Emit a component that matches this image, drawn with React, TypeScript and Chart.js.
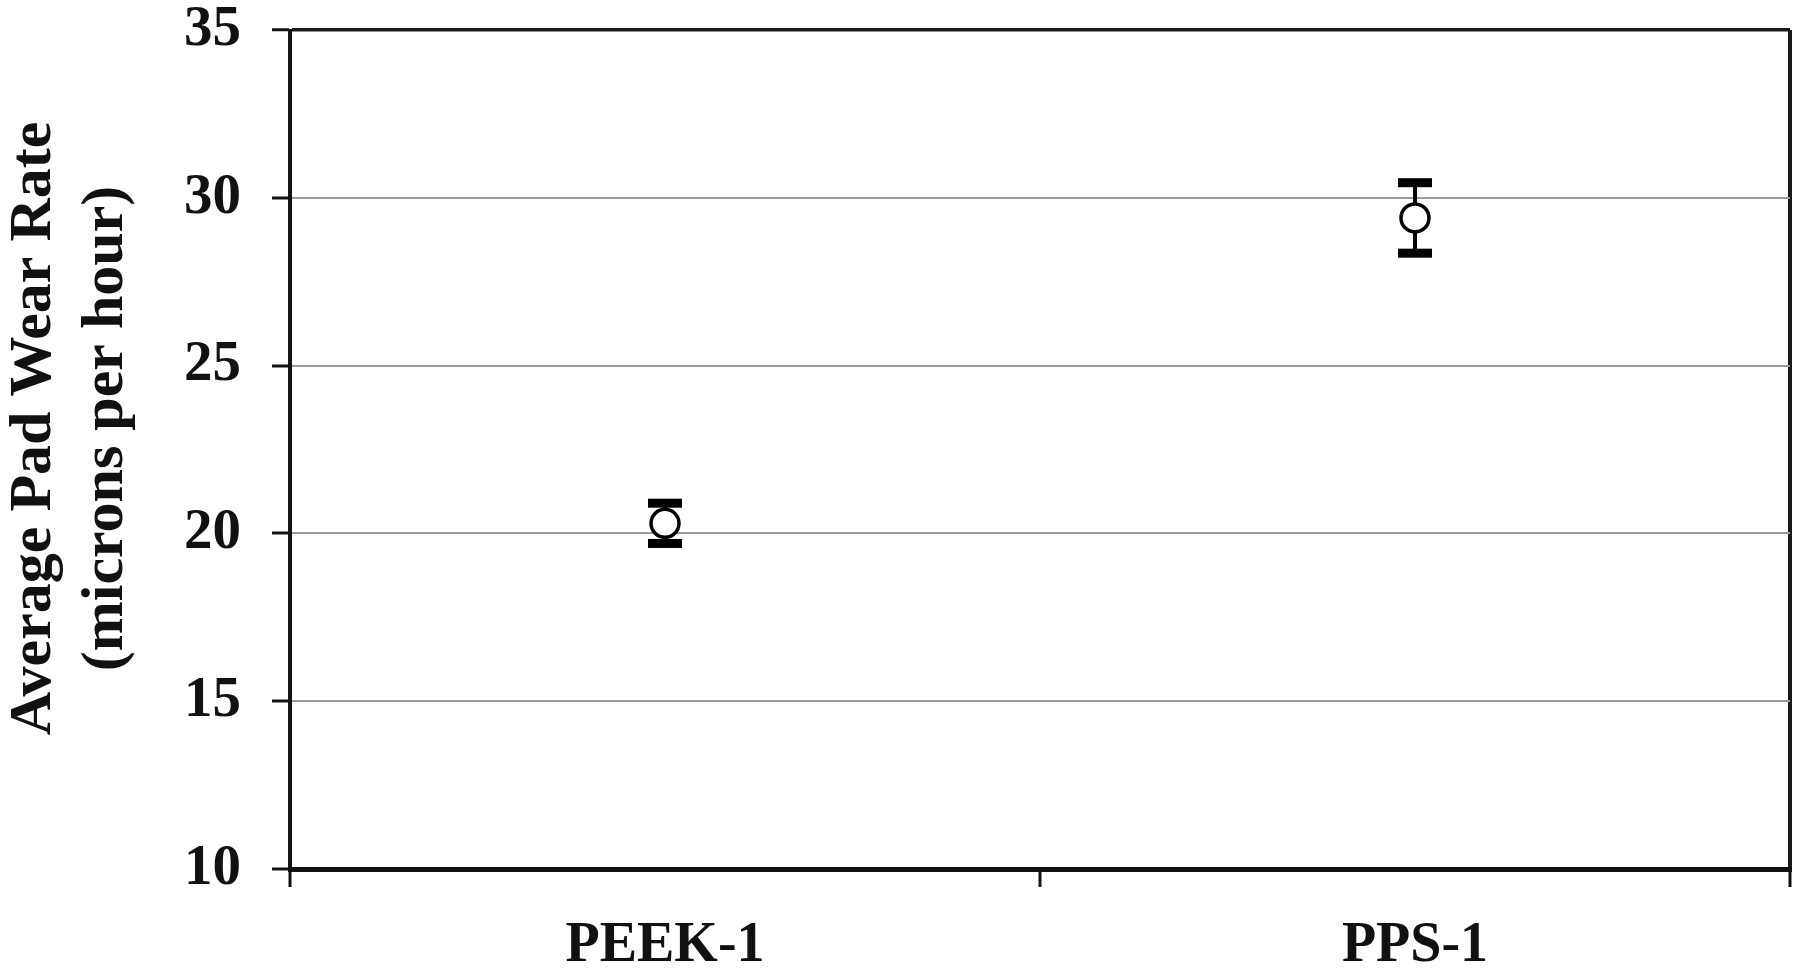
import React, { useEffect, useRef } from "react";
import { Chart, registerables } from "chart.js";

Chart.register(...registerables);

// ---- data ----
const categories = ["PEEK-1", "PPS-1"];
const meanWearRate = [20.3, 29.4];
const errorLow = [19.7, 28.35];
const errorHigh = [20.9, 30.45];
const yTicks = [10, 15, 20, 25, 30, 35];
const yTitle = ["Average Pad Wear Rate", "(microns per hour)"];

const FONT = "'Liberation Serif', 'Times New Roman', serif";
const INK = "#111111";
const TITLE_SIZE = 60;
const TITLE_LINE = 72;

const errorBarPlugin = {
  id: "errorBars",
  beforeDatasetsDraw(chart: any) {
    const { ctx, scales } = chart;
    const xs = scales.x;
    const ys = scales.y;
    ctx.save();
    ctx.strokeStyle = "#000";
    ctx.fillStyle = "#000";
    categories.forEach((_c, i) => {
      const px = xs.getPixelForValue(i);
      const yl = ys.getPixelForValue(errorLow[i]);
      const yh = ys.getPixelForValue(errorHigh[i]);
      ctx.lineWidth = 4;
      ctx.beginPath();
      ctx.moveTo(px, yl);
      ctx.lineTo(px, yh);
      ctx.stroke();
      const capW = 34;
      const capH = 9;
      ctx.fillRect(px - capW / 2, yh - capH / 2, capW, capH);
      ctx.fillRect(px - capW / 2, yl - capH / 2, capW, capH);
    });
    ctx.restore();
  },
};

// y-axis title (two lines, rotated), placed beside the y scale
const yTitlePlugin = {
  id: "yTitle",
  afterDraw(chart: any) {
    const { ctx, chartArea } = chart;
    const cy = (chartArea.top + chartArea.bottom) / 2 - 21;
    ctx.save();
    ctx.fillStyle = INK;
    ctx.font = `bold ${TITLE_SIZE}px ${FONT}`;
    ctx.textAlign = "center";
    ctx.textBaseline = "middle";
    yTitle.forEach((line, i) => {
      ctx.save();
      ctx.translate(34 + i * TITLE_LINE, cy);
      ctx.rotate(-Math.PI / 2);
      ctx.fillText(line, 0, 0);
      ctx.restore();
    });
    ctx.restore();
  },
};

export default function App() {
  const canvasRef = useRef<HTMLCanvasElement | null>(null);

  useEffect(() => {
    document.body.style.margin = "0";
    const canvas = canvasRef.current;
    if (!canvas) return;
    const chart = new Chart(canvas, {
      type: "line",
      data: {
        labels: categories,
        datasets: [
          {
            label: "Average Pad Wear Rate",
            data: meanWearRate,
            showLine: false,
            pointRadius: 14,
            pointHoverRadius: 14,
            pointBackgroundColor: "#ffffff",
            pointBorderColor: "#000000",
            pointBorderWidth: 3.5,
            pointHoverBorderWidth: 3.5,
          },
        ],
      },
      options: {
        responsive: false,
        animation: false,
        devicePixelRatio: 1,
        events: [],
        layout: { autoPadding: false, padding: { top: 30, right: 10, left: 0, bottom: 0 } },
        plugins: {
          legend: { display: false },
          tooltip: { enabled: false },
        },
        scales: {
          x: {
            type: "category",
            offset: true,
            afterFit: (s: any) => {
              s.height = 103;
              s.paddingLeft = 0;
              s.paddingRight = 0;
              s.paddingTop = 0;
              s.paddingBottom = 0;
            },
            grid: {
              offset: true,
              drawOnChartArea: true,
              drawTicks: true,
              tickLength: 18,
              tickWidth: 3,
              tickColor: INK,
              color: (ctx: any) => (ctx.index === 1 ? "rgba(0,0,0,0)" : "#1a1a1a"),
              lineWidth: 4,
            },
            border: { display: true, color: INK, width: 5 },
            ticks: {
              color: INK,
              padding: 26,
              font: { family: FONT, size: 56, weight: "bold", lineHeight: 1.2 },
            },
          },
          y: {
            type: "linear",
            min: 10,
            max: 35,
            afterFit: (s: any) => {
              s.width = 290;
              s.paddingLeft = 0;
              s.paddingRight = 0;
              s.paddingTop = 0;
              s.paddingBottom = 0;
            },
            afterBuildTicks: (s: any) => {
              s.ticks = yTicks.map((v) => ({ value: v }));
            },
            grid: {
              drawTicks: true,
              tickLength: 18,
              tickWidth: 3,
              tickColor: INK,
              color: (ctx: any) => (ctx.tick && ctx.tick.value === 35 ? "#1a1a1a" : "#9a9a9a"),
              lineWidth: (ctx: any) => (ctx.tick && ctx.tick.value === 35 ? 3.5 : 2),
            },
            border: { display: true, color: INK, width: 3 },
            ticks: {
              color: INK,
              padding: 31,
              font: { family: FONT, size: 57, weight: "bold", lineHeight: 1 },
            },
            title: { display: false },
          },
        },
      },
      plugins: [errorBarPlugin, yTitlePlugin],
    } as any);
    return () => chart.destroy();
  }, []);

  return (
    <div style={{ position: "absolute", left: 0, top: 0, width: 1800, height: 972, background: "#fff" }}>
      <canvas ref={canvasRef} width={1800} height={972} style={{ display: "block" }} />
    </div>
  );
}
